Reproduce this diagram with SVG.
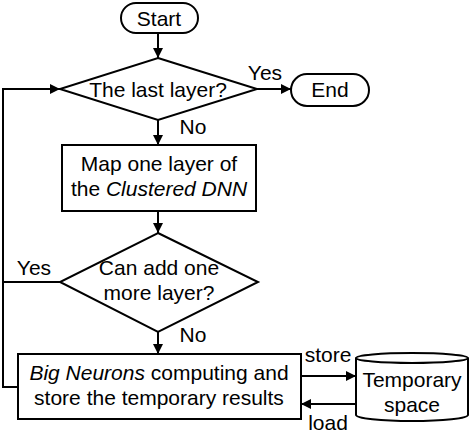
<svg xmlns="http://www.w3.org/2000/svg" width="474" height="439" viewBox="0 0 474 439">
<style>
.s{fill:#fff;stroke:#000;stroke-width:2}
.c{fill:none;stroke:#000;stroke-width:2}
text{font-family:"Liberation Sans",Arial,sans-serif;font-size:21px;fill:#000}
.m{text-anchor:middle}
.i{font-style:italic}
</style>
<defs>
<marker id="a" viewBox="0 0 10 10" refX="10" refY="5" markerWidth="5.5" markerHeight="5" orient="auto" markerUnits="strokeWidth">
<path d="M0,0L10,5L0,10z" fill="#000"/>
</marker>
</defs>
<rect width="474" height="439" fill="#fff"/>
<g id="connectors">
<line class="c" x1="158" y1="33" x2="158" y2="58" marker-end="url(#a)"/>
<line class="c" x1="257" y1="89" x2="291" y2="89" marker-end="url(#a)"/>
<line class="c" x1="158" y1="120" x2="158" y2="145" marker-end="url(#a)"/>
<line class="c" x1="158" y1="211" x2="158" y2="233" marker-end="url(#a)"/>
<line class="c" x1="158" y1="332" x2="158" y2="354" marker-end="url(#a)"/>
<polyline class="c" points="18,387 3,387 3,89 60,89" marker-end="url(#a)"/>
<line class="c" x1="60" y1="282" x2="3" y2="282"/>
<line class="c" x1="301" y1="376" x2="356" y2="376" marker-end="url(#a)"/>
<line class="c" x1="356" y1="404" x2="301" y2="404" marker-end="url(#a)"/>
<text x="265" y="80" class="m">Yes</text>
<text x="193" y="134" class="m">No</text>
<text x="34" y="275" class="m">Yes</text>
<text x="193" y="342" class="m">No</text>
<text x="328" y="362" class="m">store</text>
<text x="328" y="430" class="m">load</text>
</g>
<g id="start">
<rect class="s" x="121" y="3" width="77" height="30" rx="15"/>
<text x="159" y="26" class="m">Start</text>
</g>
<g id="last-layer">
<polygon class="s" points="158,58 257,89 158,120 60,89"/>
<text x="158" y="97" class="m">The last layer?</text>
</g>
<g id="end">
<rect class="s" x="291" y="74" width="78" height="32" rx="16"/>
<text x="330" y="97" class="m">End</text>
</g>
<g id="map">
<rect class="s" x="62" y="145" width="194" height="66"/>
<text x="159" y="171" class="m">Map one layer of</text>
<text x="159" y="196" class="m">the <tspan class="i">Clustered DNN</tspan></text>
</g>
<g id="can-add">
<polygon class="s" points="158,233 258,282 158,332 60,282"/>
<text x="159" y="275" class="m">Can add one</text>
<text x="159" y="300" class="m">more layer?</text>
</g>
<g id="big-neurons">
<rect class="s" x="18" y="354" width="283" height="65"/>
<text x="159" y="380" class="m"><tspan class="i">Big Neurons</tspan> computing and</text>
<text x="159" y="405" class="m">store the temporary results</text>
</g>
<g id="temporary">
<path class="s" d="M356,358 A56,5 0 0 1 468,358 L468,415 A56,6 0 0 1 356,415 Z"/>
<path class="c" d="M356,358 A56,5 0 0 0 468,358"/>
<text x="412" y="387" class="m">Temporary</text>
<text x="412" y="412" class="m">space</text>
</g>
</svg>
